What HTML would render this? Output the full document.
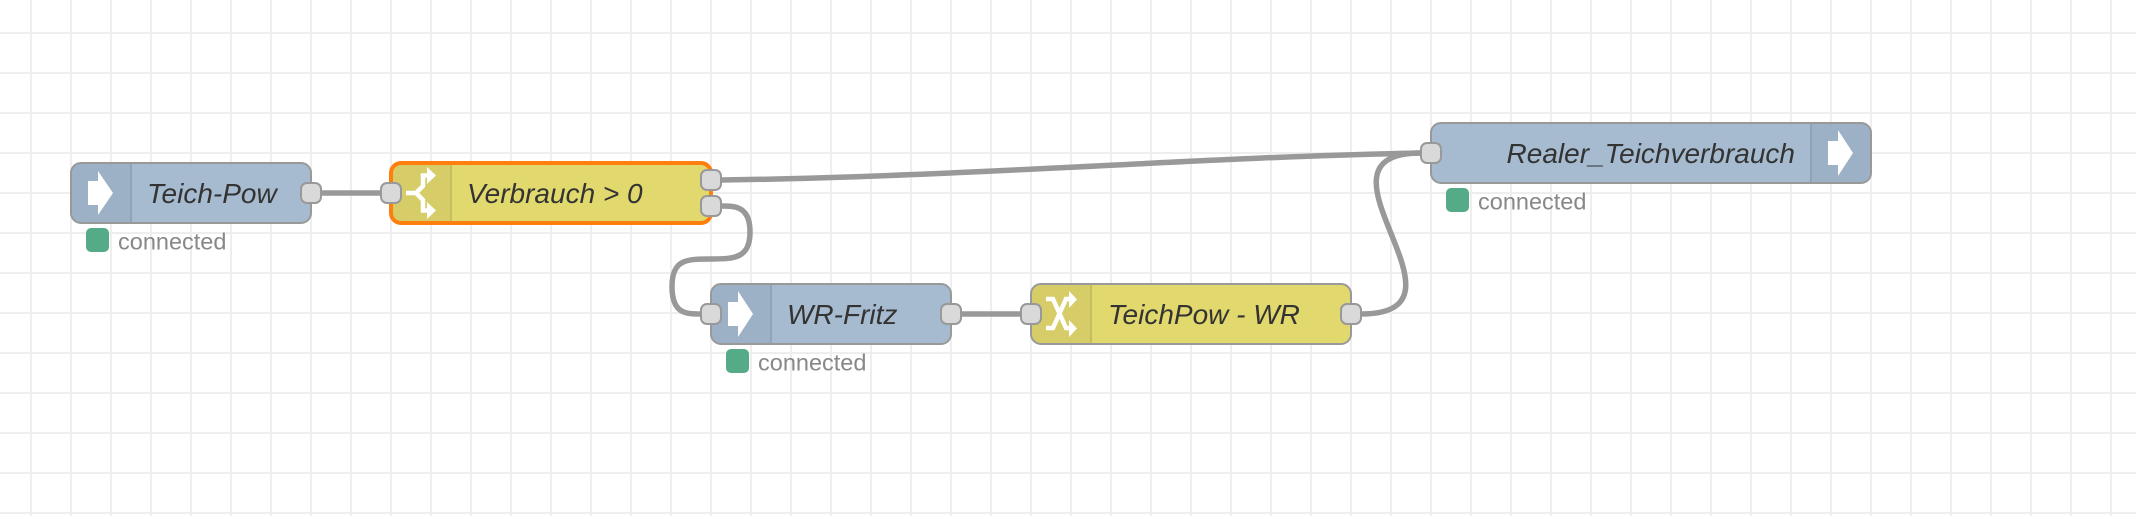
<!DOCTYPE html>
<html>
<head>
<meta charset="utf-8">
<style>
  html, body { margin: 0; padding: 0; background: #ffffff; }
  svg { display: block; }
  .lbl { font-family: "Liberation Sans", Helvetica, Arial, sans-serif; font-style: italic; font-size: 28px; fill: #333333; }
  .st { font-family: "Liberation Sans", Helvetica, Arial, sans-serif; font-size: 23.5px; fill: #888888; }
  .wire { fill: none; stroke: #999999; stroke-width: 5.5; stroke-linecap: round; }
  .port { fill: #d9d9d9; stroke: #999999; stroke-width: 2; }
  .ico { fill: none; stroke: #ffffff; stroke-width: 4.5; stroke-linejoin: miter; }
</style>
</head>
<body>
<svg width="2136" height="516" viewBox="0 0 2136 516" xmlns="http://www.w3.org/2000/svg">
  <defs>
    <pattern id="grid" x="0" y="0" width="40" height="40" patternUnits="userSpaceOnUse">
      <rect x="30" y="0" width="2" height="40" fill="#eeeeee"/>
      <rect x="0" y="32" width="40" height="2" fill="#eeeeee"/>
    </pattern>
  </defs>
  <rect x="0" y="0" width="2136" height="516" fill="#ffffff"/>
  <rect x="0" y="0" width="2136" height="516" fill="url(#grid)"/>

  <!-- wires -->
  <path class="wire" d="M 311 193 L 391 193"/>
  <path class="wire" d="M 721 180 C 960 177 1200 157 1421 153"/>
  <path class="wire" d="M 721 206 C 735 206 750 206 750 232 S 735 259 711 259 S 672 259 672 286.5 S 686 314 701 314"/>
  <path class="wire" d="M 951 314 L 1031 314"/>
  <path class="wire" d="M 1361 314 C 1486 314 1296 153 1421 153"/>

  <!-- Node 1: Teich-Pow -->
  <rect x="71" y="163" width="240" height="60" rx="10" fill="#a6bbcf"/>
  <path d="M 81 163 H 131 V 223 H 81 A 10 10 0 0 1 71 213 V 173 A 10 10 0 0 1 81 163 Z" fill="#9db1c6"/>
  <line x1="131" y1="164" x2="131" y2="222" stroke="#90a3b7" stroke-width="2"/>
  <rect x="71" y="163" width="240" height="60" rx="10" fill="none" stroke="#999999" stroke-width="2"/>
  <rect x="88" y="181" width="11" height="24" fill="#ffffff"/>
  <polygon points="98,171 113,193 98,215" fill="#ffffff"/>
  <text class="lbl" x="147" y="203">Teich-Pow</text>
  <rect class="port" x="301" y="183" width="20" height="20" rx="6"/>
  <rect x="86" y="228" width="23" height="24" rx="5" fill="#55aa88"/>
  <text class="st" x="118" y="249.5">connected</text>

  <!-- Node 2: Verbrauch > 0 (selected) -->
  <rect x="391" y="163" width="320" height="60" rx="10" fill="#e2d96e"/>
  <path d="M 401 163 H 451 V 223 H 401 A 10 10 0 0 1 391 213 V 173 A 10 10 0 0 1 401 163 Z" fill="#d6cd68"/>
  <line x1="451" y1="164" x2="451" y2="222" stroke="#c7be5e" stroke-width="2"/>
  <rect x="391" y="163" width="320" height="60" rx="10" fill="none" stroke="#ff7f0e" stroke-width="4"/>
  <path class="ico" d="M 406 193 H 416 L 423 186 V 175.5 H 428"/>
  <polygon points="427,167 436,175.5 427,184" fill="#ffffff"/>
  <path class="ico" d="M 416 193 L 423 200 V 210.5 H 428"/>
  <polygon points="427,202 436,210.5 427,219" fill="#ffffff"/>
  <text class="lbl" x="467" y="203">Verbrauch &gt; 0</text>
  <rect class="port" x="381" y="183" width="20" height="20" rx="6"/>
  <rect class="port" x="701" y="170" width="20" height="20" rx="6"/>
  <rect class="port" x="701" y="196" width="20" height="20" rx="6"/>

  <!-- Node 3: WR-Fritz -->
  <rect x="711" y="284" width="240" height="60" rx="10" fill="#a6bbcf"/>
  <path d="M 721 284 H 771 V 344 H 721 A 10 10 0 0 1 711 334 V 294 A 10 10 0 0 1 721 284 Z" fill="#9db1c6"/>
  <line x1="771" y1="285" x2="771" y2="343" stroke="#90a3b7" stroke-width="2"/>
  <rect x="711" y="284" width="240" height="60" rx="10" fill="none" stroke="#999999" stroke-width="2"/>
  <rect x="728" y="302" width="11" height="24" fill="#ffffff"/>
  <polygon points="738,291 753,314 738,337" fill="#ffffff"/>
  <text class="lbl" x="787" y="324">WR-Fritz</text>
  <rect class="port" x="701" y="304" width="20" height="20" rx="6"/>
  <rect class="port" x="941" y="304" width="20" height="20" rx="6"/>
  <rect x="726" y="349" width="23" height="24" rx="5" fill="#55aa88"/>
  <text class="st" x="758" y="370.5">connected</text>

  <!-- Node 4: TeichPow - WR -->
  <rect x="1031" y="284" width="320" height="60" rx="10" fill="#e2d96e"/>
  <path d="M 1041 284 H 1091 V 344 H 1041 A 10 10 0 0 1 1031 334 V 294 A 10 10 0 0 1 1041 284 Z" fill="#d6cd68"/>
  <line x1="1091" y1="285" x2="1091" y2="343" stroke="#c7be5e" stroke-width="2"/>
  <rect x="1031" y="284" width="320" height="60" rx="10" fill="none" stroke="#999999" stroke-width="2"/>
  <path class="ico" d="M 1046 299 H 1053 L 1066 328 H 1070"/>
  <polygon points="1069,320 1077,328.5 1069,337" fill="#ffffff"/>
  <path class="ico" d="M 1046 328 H 1053 L 1066 299 H 1070"/>
  <polygon points="1069,291 1077,299.5 1069,308" fill="#ffffff"/>
  <text class="lbl" x="1108" y="324">TeichPow - WR</text>
  <rect class="port" x="1021" y="304" width="20" height="20" rx="6"/>
  <rect class="port" x="1341" y="304" width="20" height="20" rx="6"/>

  <!-- Node 5: Realer_Teichverbrauch -->
  <rect x="1431" y="123" width="440" height="60" rx="10" fill="#a6bbcf"/>
  <path d="M 1811 123 H 1861 A 10 10 0 0 1 1871 133 V 173 A 10 10 0 0 1 1861 183 H 1811 Z" fill="#9db1c6"/>
  <line x1="1811" y1="124" x2="1811" y2="182" stroke="#90a3b7" stroke-width="2"/>
  <rect x="1431" y="123" width="440" height="60" rx="10" fill="none" stroke="#999999" stroke-width="2"/>
  <rect x="1828" y="141" width="11" height="24" fill="#ffffff"/>
  <polygon points="1838,130 1853,153 1838,176" fill="#ffffff"/>
  <text class="lbl" x="1795" y="163" text-anchor="end">Realer_Teichverbrauch</text>
  <rect class="port" x="1421" y="143" width="20" height="20" rx="6"/>
  <rect x="1446" y="188" width="23" height="24" rx="5" fill="#55aa88"/>
  <text class="st" x="1478" y="209.5">connected</text>
</svg>
</body>
</html>
